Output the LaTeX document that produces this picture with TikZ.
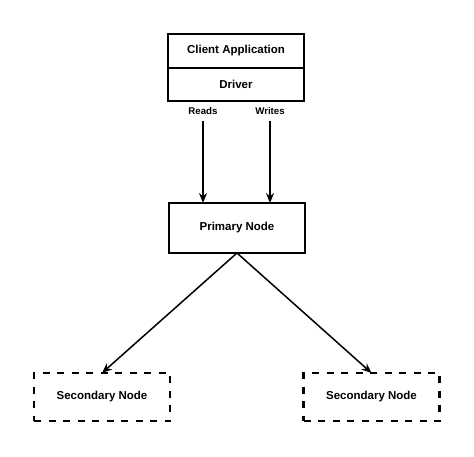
\documentclass[tikz,border=0pt]{standalone}
\usepackage{fontspec}
\setmainfont{Liberation Sans}
\usetikzlibrary{positioning,arrows.meta}
\begin{document}
\begin{tikzpicture}[x=1pt,y=-1pt]
	\tikzstyle{box} = [draw, line width=1.9pt, outer sep=0pt, inner sep=0pt, rectangle, minimum width=136pt, minimum height=34pt, font={\fontsize{11.5}{14}\selectfont\bfseries}]
	\tikzstyle{replica} = [box, dash pattern=on 7pt off 7.5pt, line width=2.5pt, minimum height=48pt]
	\tikzstyle{op} = [font={\fontsize{9.7}{11}\selectfont\bfseries}]
	\tikzstyle{flow} = [line width=1.5pt, -{Stealth[length=10pt,width=8pt]}]
	\useasboundingbox (0,0) rectangle (474,457);

	\node[box] (client) at (236,51) {Client Application};
	\node[box, minimum height=33pt] (driver) [below=0pt of client] {Driver};
	\node[op] (reads) at (203,111) {Reads};
	\node[op] (writes) at (270,111) {Writes};

	\node[box, minimum height=50pt] (primary) at (237,228) {Primary Node};
	\node[replica] (secleft) at (102,397) {Secondary Node};
	\node[replica] (secright) at (371.5,397) {Secondary Node};

	\draw[flow, shorten <=3pt] (reads) -- (reads |- primary.north);
	\draw[flow, shorten <=3pt] (writes) -- (writes |- primary.north);
	\draw[flow] (primary.south) -- (secleft.north);
	\draw[flow] (primary.south) -- (secright.north);
\end{tikzpicture}
\end{document}
